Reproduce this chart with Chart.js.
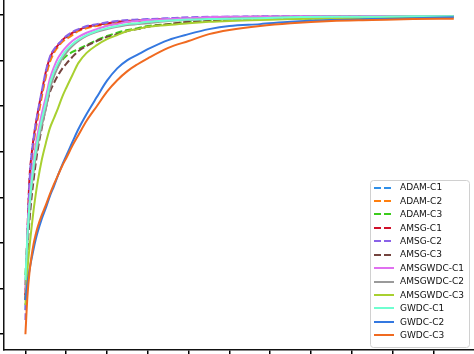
<!DOCTYPE html>
<html>
<head>
<meta charset="utf-8">
<script src="https://cdn.jsdelivr.net/npm/chart.js@4/dist/chart.umd.min.js"></script>
<style>
html,body{margin:0;padding:0;background:#fff;}
#wrap{width:474px;height:354px;position:relative;}
</style>
</head>
<body>
<div id="wrap"><canvas id="c"></canvas></div>
<script>
// epochs
const epochs = [0,1,2,3,4,5,6,8,10,12,14,16,18,20,23,26,30,35,40,45,50,55,60,70,80,90,100,115,130,150,170,190,210];

const labels = ['ADAM-C1','ADAM-C2','ADAM-C3','AMSG-C1','AMSG-C2','AMSG-C3','AMSGWDC-C1','AMSGWDC-C2','AMSGWDC-C3','GWDC-C1','GWDC-C2','GWDC-C3'];

const adamC1 = [0.353,0.507,0.627,0.686,0.724,0.754,0.779,0.825,0.868,0.901,0.921,0.932,0.943,0.950,0.958,0.967,0.974,0.978,0.981,0.985,0.987,0.989,0.990,0.992,0.993,0.995,0.996,0.996,0.997,0.997,0.998,0.998,0.998];
const adamC2 = [0.375,0.502,0.616,0.678,0.717,0.748,0.772,0.820,0.864,0.897,0.917,0.930,0.941,0.947,0.956,0.965,0.971,0.976,0.979,0.982,0.985,0.987,0.988,0.990,0.991,0.992,0.993,0.995,0.996,0.996,0.997,0.997,0.997];
const adamC3 = [0.430,0.511,0.577,0.625,0.662,0.693,0.719,0.763,0.800,0.842,0.868,0.888,0.901,0.910,0.919,0.925,0.934,0.945,0.954,0.961,0.967,0.971,0.976,0.980,0.985,0.987,0.989,0.991,0.992,0.993,0.995,0.996,0.996];
const amsgC1 = [0.386,0.529,0.643,0.693,0.730,0.759,0.785,0.831,0.875,0.906,0.923,0.934,0.945,0.952,0.961,0.967,0.974,0.978,0.982,0.985,0.987,0.988,0.989,0.991,0.992,0.993,0.995,0.996,0.996,0.997,0.997,0.998,0.998];
const amsgC2 = [0.331,0.515,0.634,0.691,0.730,0.761,0.787,0.833,0.877,0.908,0.925,0.936,0.945,0.954,0.963,0.969,0.976,0.980,0.984,0.987,0.989,0.990,0.991,0.993,0.995,0.996,0.996,0.997,0.997,0.998,0.998,0.998,0.998];
const amsgC3 = [0.375,0.485,0.550,0.599,0.638,0.673,0.704,0.752,0.796,0.831,0.851,0.868,0.882,0.893,0.908,0.921,0.932,0.943,0.952,0.958,0.965,0.969,0.974,0.980,0.985,0.987,0.989,0.991,0.993,0.995,0.996,0.997,0.997];
const amsgwdcC1 = [0.397,0.524,0.594,0.645,0.682,0.713,0.739,0.783,0.820,0.860,0.886,0.906,0.919,0.930,0.943,0.952,0.961,0.969,0.976,0.980,0.985,0.987,0.989,0.991,0.993,0.995,0.996,0.996,0.997,0.997,0.998,0.998,0.998];
const amsgwdcC2 = [0.408,0.507,0.572,0.621,0.658,0.689,0.715,0.757,0.794,0.838,0.866,0.886,0.904,0.917,0.932,0.943,0.954,0.963,0.969,0.974,0.978,0.980,0.982,0.987,0.989,0.991,0.992,0.993,0.995,0.996,0.996,0.997,0.997];
const amsgwdcC3 = [0.364,0.441,0.491,0.533,0.572,0.605,0.634,0.682,0.719,0.752,0.774,0.796,0.820,0.840,0.868,0.895,0.917,0.934,0.947,0.956,0.965,0.969,0.974,0.978,0.982,0.985,0.987,0.989,0.991,0.992,0.993,0.995,0.996];
const gwdcC1 = [0.419,0.518,0.583,0.632,0.669,0.700,0.726,0.770,0.807,0.849,0.875,0.895,0.910,0.923,0.936,0.946,0.956,0.965,0.971,0.976,0.980,0.982,0.985,0.988,0.990,0.991,0.992,0.993,0.995,0.996,0.996,0.997,0.997];
const gwdcC2 = [0.375,0.412,0.441,0.465,0.487,0.507,0.524,0.553,0.577,0.603,0.625,0.649,0.671,0.691,0.721,0.750,0.783,0.820,0.856,0.883,0.901,0.913,0.925,0.945,0.958,0.969,0.976,0.980,0.985,0.989,0.991,0.993,0.995];
const gwdcC3 = [0.300,0.384,0.436,0.471,0.498,0.518,0.535,0.561,0.583,0.607,0.629,0.649,0.669,0.686,0.713,0.737,0.768,0.800,0.832,0.857,0.877,0.892,0.905,0.928,0.943,0.958,0.967,0.976,0.982,0.987,0.989,0.991,0.992];

const series = [adamC1,adamC2,adamC3,amsgC1,amsgC2,amsgC3,amsgwdcC1,amsgwdcC2,amsgwdcC3,gwdcC1,gwdcC2,gwdcC3];
const colors = ['#2f8fe8','#ff7f0e','#3ccc1c','#d0102a','#8a62e8','#74443f','#e070f0','#9a9a9a','#a8d030','#6fffd0','#3478e0','#f06a20'];
const dashed = [true,true,true,true,true,true,false,false,false,false,false,false];

const xTicks = [0,20,40,60,80,100,120,140,160,180,200];
const yTicks = [0.3,0.4,0.5,0.6,0.7,0.8,0.9,1.0];

const datasets = labels.map((lab,i)=>({
  label: lab,
  data: epochs.map((e,j)=>({x:e,y:series[i][j]})),
  borderColor: colors[i],
  backgroundColor: colors[i],
  borderWidth: 2,
  borderDash: dashed[i] ? [7,3] : [],
  pointRadius: 0,
  fill: false,
  cubicInterpolationMode: 'monotone',
  order: labels.length - 1 - i
}));

const legendPlugin = {
  id: 'boxLegend',
  afterDraw(chart){
    const ctx = chart.ctx;
    const x0 = 370, y0 = 180, w = 99, h = 167;
    ctx.save();
    ctx.fillStyle = 'rgba(255,255,255,0.85)';
    ctx.strokeStyle = '#d0d0d0';
    ctx.lineWidth = 1;
    ctx.beginPath();
    if (ctx.roundRect) ctx.roundRect(x0+0.5,y0+0.5,w,h,3); else ctx.rect(x0+0.5,y0+0.5,w,h);
    ctx.fill(); ctx.stroke();
    ctx.font = '9px "DejaVu Sans"';
    ctx.textBaseline = 'middle';
    labels.forEach((lab,i)=>{
      const yc = 187.5 + i*13.43;
      ctx.strokeStyle = colors[i];
      ctx.lineWidth = 2;
      ctx.setLineDash(dashed[i] ? [7,3] : []);
      ctx.beginPath();
      ctx.moveTo(374, Math.round(yc));
      ctx.lineTo(394, Math.round(yc));
      ctx.stroke();
      ctx.setLineDash([]);
      ctx.fillStyle = '#111';
      ctx.fillText(lab, 400, yc+0.5);
    });
    ctx.restore();
  }
};

new Chart(document.getElementById('c'), {
  type: 'line',
  data: { datasets },
  options: {
    responsive: true,
    maintainAspectRatio: false,
    animation: false,
    layout: { padding: 0 },
    plugins: { legend: { display: false }, tooltip: { enabled: false } },
    scales: {
      x: {
        type: 'linear',
        min: -10.5, max: 219.9,
        afterBuildTicks: s => { s.ticks = xTicks.map(v=>({value:v})); },
        ticks: { display: false },
        grid: { display: true, drawOnChartArea: false, drawTicks: true, tickLength: 4, color: '#000', lineWidth: 1.5 },
        border: { display: true, color: '#111', width: 1.5 }
      },
      y: {
        type: 'linear',
        min: 0.2654, max: 1.0329,
        afterBuildTicks: s => { s.ticks = yTicks.map(v=>({value:v})); },
        ticks: { display: false },
        grid: { display: true, drawOnChartArea: false, drawTicks: true, tickLength: 4, color: '#000', lineWidth: 1.5 },
        border: { display: true, color: '#111', width: 1.5 }
      }
    }
  },
  plugins: [legendPlugin]
});
</script>
</body>
</html>
